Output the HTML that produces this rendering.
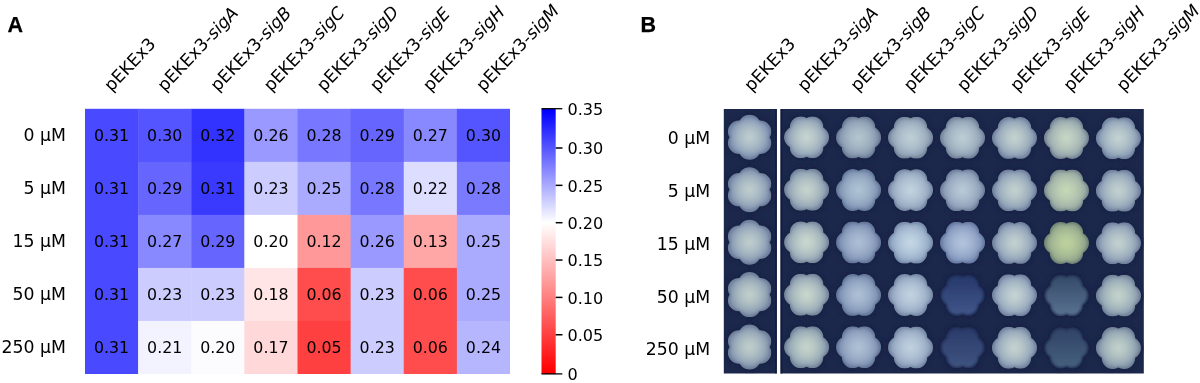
<!DOCTYPE html>
<html lang="en"><head><meta charset="utf-8"><title>Figure</title>
<style>html,body{margin:0;padding:0;background:#fff;}body{width:1200px;height:383px;overflow:hidden;}svg{display:block;}.dv{font-family:"DejaVu Sans","Liberation Sans",sans-serif;fill:#000;}.it{font-style:italic;}.pl{font-family:"Liberation Sans",sans-serif;font-weight:bold;font-size:21.5px;fill:#000;stroke:#000;stroke-width:0.25px;}</style></head><body>
<svg width="1200" height="383" viewBox="0 0 1200 383">
<defs>
<linearGradient id="cb" x1="0" y1="0" x2="0" y2="1"><stop offset="0" stop-color="#0000ff"/><stop offset="0.0070" stop-color="#0000ff"/><stop offset="0.4295" stop-color="#ffffff"/><stop offset="0.9928" stop-color="#ff0000"/><stop offset="1" stop-color="#ff0000"/></linearGradient>
<filter id="soft" x="-10%" y="-10%" width="120%" height="120%"><feGaussianBlur stdDeviation="0.55"/></filter>
<path id="fA" transform="scale(1.035 1)" d="M-10.00 0.00 a10.00 10.00 0 1 0 20.00 0 a10.00 10.00 0 1 0 -20.00 0zM-10.90 -11.60 a10.90 10.90 0 1 0 21.80 0 a10.90 10.90 0 1 0 -21.80 0zM-20.95 -5.80 a10.90 10.90 0 1 0 21.80 0 a10.90 10.90 0 1 0 -21.80 0zM-20.95 5.80 a10.90 10.90 0 1 0 21.80 0 a10.90 10.90 0 1 0 -21.80 0zM-10.90 11.60 a10.90 10.90 0 1 0 21.80 0 a10.90 10.90 0 1 0 -21.80 0zM-0.85 5.80 a10.90 10.90 0 1 0 21.80 0 a10.90 10.90 0 1 0 -21.80 0zM-0.85 -5.80 a10.90 10.90 0 1 0 21.80 0 a10.90 10.90 0 1 0 -21.80 0z"/>
<path id="fB" d="M-10.00 0.00 a10.00 10.00 0 1 0 20.00 0 a10.00 10.00 0 1 0 -20.00 0zM0.70 -0.00 a10.90 10.90 0 1 0 21.80 0 a10.90 10.90 0 1 0 -21.80 0zM-5.10 -10.05 a10.90 10.90 0 1 0 21.80 0 a10.90 10.90 0 1 0 -21.80 0zM-16.70 -10.05 a10.90 10.90 0 1 0 21.80 0 a10.90 10.90 0 1 0 -21.80 0zM-22.50 -0.00 a10.90 10.90 0 1 0 21.80 0 a10.90 10.90 0 1 0 -21.80 0zM-16.70 10.05 a10.90 10.90 0 1 0 21.80 0 a10.90 10.90 0 1 0 -21.80 0zM-5.10 10.05 a10.90 10.90 0 1 0 21.80 0 a10.90 10.90 0 1 0 -21.80 0z"/>
<radialGradient id="c_00" cx="0" cy="0" r="20" gradientUnits="userSpaceOnUse"><stop offset="0" stop-color="#bdcdcf" stop-opacity="1"/><stop offset="0.2" stop-color="#bdcdcf" stop-opacity="0.89"/><stop offset="0.4" stop-color="#bdcdcf" stop-opacity="0.75"/><stop offset="0.55" stop-color="#bdcdcf" stop-opacity="0.61"/><stop offset="0.7" stop-color="#bdcdcf" stop-opacity="0.444"/><stop offset="0.8" stop-color="#bdcdcf" stop-opacity="0.305"/><stop offset="0.9" stop-color="#bdcdcf" stop-opacity="0.14"/><stop offset="1" stop-color="#bdcdcf" stop-opacity="0"/></radialGradient>
<radialGradient id="c_01" cx="0" cy="0" r="20" gradientUnits="userSpaceOnUse"><stop offset="0" stop-color="#c6d5d0" stop-opacity="1"/><stop offset="0.2" stop-color="#c6d5d0" stop-opacity="0.89"/><stop offset="0.4" stop-color="#c6d5d0" stop-opacity="0.75"/><stop offset="0.55" stop-color="#c6d5d0" stop-opacity="0.61"/><stop offset="0.7" stop-color="#c6d5d0" stop-opacity="0.444"/><stop offset="0.8" stop-color="#c6d5d0" stop-opacity="0.305"/><stop offset="0.9" stop-color="#c6d5d0" stop-opacity="0.14"/><stop offset="1" stop-color="#c6d5d0" stop-opacity="0"/></radialGradient>
<radialGradient id="c_02" cx="0" cy="0" r="20" gradientUnits="userSpaceOnUse"><stop offset="0" stop-color="#b4c5cf" stop-opacity="1"/><stop offset="0.2" stop-color="#b4c5cf" stop-opacity="0.89"/><stop offset="0.4" stop-color="#b4c5cf" stop-opacity="0.75"/><stop offset="0.55" stop-color="#b4c5cf" stop-opacity="0.61"/><stop offset="0.7" stop-color="#b4c5cf" stop-opacity="0.444"/><stop offset="0.8" stop-color="#b4c5cf" stop-opacity="0.305"/><stop offset="0.9" stop-color="#b4c5cf" stop-opacity="0.14"/><stop offset="1" stop-color="#b4c5cf" stop-opacity="0"/></radialGradient>
<radialGradient id="c_03" cx="0" cy="0" r="20" gradientUnits="userSpaceOnUse"><stop offset="0" stop-color="#bfcfd7" stop-opacity="1"/><stop offset="0.2" stop-color="#bfcfd7" stop-opacity="0.89"/><stop offset="0.4" stop-color="#bfcfd7" stop-opacity="0.75"/><stop offset="0.55" stop-color="#bfcfd7" stop-opacity="0.61"/><stop offset="0.7" stop-color="#bfcfd7" stop-opacity="0.444"/><stop offset="0.8" stop-color="#bfcfd7" stop-opacity="0.305"/><stop offset="0.9" stop-color="#bfcfd7" stop-opacity="0.14"/><stop offset="1" stop-color="#bfcfd7" stop-opacity="0"/></radialGradient>
<radialGradient id="c_04" cx="0" cy="0" r="20" gradientUnits="userSpaceOnUse"><stop offset="0" stop-color="#bdcdd5" stop-opacity="1"/><stop offset="0.2" stop-color="#bdcdd5" stop-opacity="0.89"/><stop offset="0.4" stop-color="#bdcdd5" stop-opacity="0.75"/><stop offset="0.55" stop-color="#bdcdd5" stop-opacity="0.61"/><stop offset="0.7" stop-color="#bdcdd5" stop-opacity="0.444"/><stop offset="0.8" stop-color="#bdcdd5" stop-opacity="0.305"/><stop offset="0.9" stop-color="#bdcdd5" stop-opacity="0.14"/><stop offset="1" stop-color="#bdcdd5" stop-opacity="0"/></radialGradient>
<radialGradient id="c_05" cx="0" cy="0" r="20" gradientUnits="userSpaceOnUse"><stop offset="0" stop-color="#c3d2cf" stop-opacity="1"/><stop offset="0.2" stop-color="#c3d2cf" stop-opacity="0.89"/><stop offset="0.4" stop-color="#c3d2cf" stop-opacity="0.75"/><stop offset="0.55" stop-color="#c3d2cf" stop-opacity="0.61"/><stop offset="0.7" stop-color="#c3d2cf" stop-opacity="0.444"/><stop offset="0.8" stop-color="#c3d2cf" stop-opacity="0.305"/><stop offset="0.9" stop-color="#c3d2cf" stop-opacity="0.14"/><stop offset="1" stop-color="#c3d2cf" stop-opacity="0"/></radialGradient>
<radialGradient id="c_06" cx="0" cy="0" r="20" gradientUnits="userSpaceOnUse"><stop offset="0" stop-color="#c7d6c4" stop-opacity="1"/><stop offset="0.2" stop-color="#c7d6c4" stop-opacity="0.89"/><stop offset="0.4" stop-color="#c7d6c4" stop-opacity="0.75"/><stop offset="0.55" stop-color="#c7d6c4" stop-opacity="0.61"/><stop offset="0.7" stop-color="#c7d6c4" stop-opacity="0.444"/><stop offset="0.8" stop-color="#c7d6c4" stop-opacity="0.305"/><stop offset="0.9" stop-color="#c7d6c4" stop-opacity="0.14"/><stop offset="1" stop-color="#c7d6c4" stop-opacity="0"/></radialGradient>
<radialGradient id="c_07" cx="0" cy="0" r="20" gradientUnits="userSpaceOnUse"><stop offset="0" stop-color="#c3d3d1" stop-opacity="1"/><stop offset="0.2" stop-color="#c3d3d1" stop-opacity="0.89"/><stop offset="0.4" stop-color="#c3d3d1" stop-opacity="0.75"/><stop offset="0.55" stop-color="#c3d3d1" stop-opacity="0.61"/><stop offset="0.7" stop-color="#c3d3d1" stop-opacity="0.444"/><stop offset="0.8" stop-color="#c3d3d1" stop-opacity="0.305"/><stop offset="0.9" stop-color="#c3d3d1" stop-opacity="0.14"/><stop offset="1" stop-color="#c3d3d1" stop-opacity="0"/></radialGradient>
<radialGradient id="c_10" cx="0" cy="0" r="20" gradientUnits="userSpaceOnUse"><stop offset="0" stop-color="#becdcd" stop-opacity="1"/><stop offset="0.2" stop-color="#becdcd" stop-opacity="0.89"/><stop offset="0.4" stop-color="#becdcd" stop-opacity="0.75"/><stop offset="0.55" stop-color="#becdcd" stop-opacity="0.61"/><stop offset="0.7" stop-color="#becdcd" stop-opacity="0.444"/><stop offset="0.8" stop-color="#becdcd" stop-opacity="0.305"/><stop offset="0.9" stop-color="#becdcd" stop-opacity="0.14"/><stop offset="1" stop-color="#becdcd" stop-opacity="0"/></radialGradient>
<radialGradient id="c_11" cx="0" cy="0" r="20" gradientUnits="userSpaceOnUse"><stop offset="0" stop-color="#c5d4cd" stop-opacity="1"/><stop offset="0.2" stop-color="#c5d4cd" stop-opacity="0.89"/><stop offset="0.4" stop-color="#c5d4cd" stop-opacity="0.75"/><stop offset="0.55" stop-color="#c5d4cd" stop-opacity="0.61"/><stop offset="0.7" stop-color="#c5d4cd" stop-opacity="0.444"/><stop offset="0.8" stop-color="#c5d4cd" stop-opacity="0.305"/><stop offset="0.9" stop-color="#c5d4cd" stop-opacity="0.14"/><stop offset="1" stop-color="#c5d4cd" stop-opacity="0"/></radialGradient>
<radialGradient id="c_12" cx="0" cy="0" r="20" gradientUnits="userSpaceOnUse"><stop offset="0" stop-color="#afc3d5" stop-opacity="1"/><stop offset="0.2" stop-color="#afc3d5" stop-opacity="0.89"/><stop offset="0.4" stop-color="#afc3d5" stop-opacity="0.75"/><stop offset="0.55" stop-color="#afc3d5" stop-opacity="0.61"/><stop offset="0.7" stop-color="#afc3d5" stop-opacity="0.444"/><stop offset="0.8" stop-color="#afc3d5" stop-opacity="0.305"/><stop offset="0.9" stop-color="#afc3d5" stop-opacity="0.14"/><stop offset="1" stop-color="#afc3d5" stop-opacity="0"/></radialGradient>
<radialGradient id="c_13" cx="0" cy="0" r="20" gradientUnits="userSpaceOnUse"><stop offset="0" stop-color="#c1d3df" stop-opacity="1"/><stop offset="0.2" stop-color="#c1d3df" stop-opacity="0.89"/><stop offset="0.4" stop-color="#c1d3df" stop-opacity="0.75"/><stop offset="0.55" stop-color="#c1d3df" stop-opacity="0.61"/><stop offset="0.7" stop-color="#c1d3df" stop-opacity="0.444"/><stop offset="0.8" stop-color="#c1d3df" stop-opacity="0.305"/><stop offset="0.9" stop-color="#c1d3df" stop-opacity="0.14"/><stop offset="1" stop-color="#c1d3df" stop-opacity="0"/></radialGradient>
<radialGradient id="c_14" cx="0" cy="0" r="20" gradientUnits="userSpaceOnUse"><stop offset="0" stop-color="#b9c9d7" stop-opacity="1"/><stop offset="0.2" stop-color="#b9c9d7" stop-opacity="0.89"/><stop offset="0.4" stop-color="#b9c9d7" stop-opacity="0.75"/><stop offset="0.55" stop-color="#b9c9d7" stop-opacity="0.61"/><stop offset="0.7" stop-color="#b9c9d7" stop-opacity="0.444"/><stop offset="0.8" stop-color="#b9c9d7" stop-opacity="0.305"/><stop offset="0.9" stop-color="#b9c9d7" stop-opacity="0.14"/><stop offset="1" stop-color="#b9c9d7" stop-opacity="0"/></radialGradient>
<radialGradient id="c_15" cx="0" cy="0" r="20" gradientUnits="userSpaceOnUse"><stop offset="0" stop-color="#c2d1cf" stop-opacity="1"/><stop offset="0.2" stop-color="#c2d1cf" stop-opacity="0.89"/><stop offset="0.4" stop-color="#c2d1cf" stop-opacity="0.75"/><stop offset="0.55" stop-color="#c2d1cf" stop-opacity="0.61"/><stop offset="0.7" stop-color="#c2d1cf" stop-opacity="0.444"/><stop offset="0.8" stop-color="#c2d1cf" stop-opacity="0.305"/><stop offset="0.9" stop-color="#c2d1cf" stop-opacity="0.14"/><stop offset="1" stop-color="#c2d1cf" stop-opacity="0"/></radialGradient>
<radialGradient id="c_16" cx="0" cy="0" r="20" gradientUnits="userSpaceOnUse"><stop offset="0" stop-color="#c6d8b6" stop-opacity="1"/><stop offset="0.2" stop-color="#c6d8b6" stop-opacity="0.89"/><stop offset="0.4" stop-color="#c6d8b6" stop-opacity="0.75"/><stop offset="0.55" stop-color="#c6d8b6" stop-opacity="0.61"/><stop offset="0.7" stop-color="#c6d8b6" stop-opacity="0.444"/><stop offset="0.8" stop-color="#c6d8b6" stop-opacity="0.305"/><stop offset="0.9" stop-color="#c6d8b6" stop-opacity="0.14"/><stop offset="1" stop-color="#c6d8b6" stop-opacity="0"/></radialGradient>
<radialGradient id="c_17" cx="0" cy="0" r="20" gradientUnits="userSpaceOnUse"><stop offset="0" stop-color="#c2d1cf" stop-opacity="1"/><stop offset="0.2" stop-color="#c2d1cf" stop-opacity="0.89"/><stop offset="0.4" stop-color="#c2d1cf" stop-opacity="0.75"/><stop offset="0.55" stop-color="#c2d1cf" stop-opacity="0.61"/><stop offset="0.7" stop-color="#c2d1cf" stop-opacity="0.444"/><stop offset="0.8" stop-color="#c2d1cf" stop-opacity="0.305"/><stop offset="0.9" stop-color="#c2d1cf" stop-opacity="0.14"/><stop offset="1" stop-color="#c2d1cf" stop-opacity="0"/></radialGradient>
<radialGradient id="c_20" cx="0" cy="0" r="20" gradientUnits="userSpaceOnUse"><stop offset="0" stop-color="#becdcd" stop-opacity="1"/><stop offset="0.2" stop-color="#becdcd" stop-opacity="0.89"/><stop offset="0.4" stop-color="#becdcd" stop-opacity="0.75"/><stop offset="0.55" stop-color="#becdcd" stop-opacity="0.61"/><stop offset="0.7" stop-color="#becdcd" stop-opacity="0.444"/><stop offset="0.8" stop-color="#becdcd" stop-opacity="0.305"/><stop offset="0.9" stop-color="#becdcd" stop-opacity="0.14"/><stop offset="1" stop-color="#becdcd" stop-opacity="0"/></radialGradient>
<radialGradient id="c_21" cx="0" cy="0" r="20" gradientUnits="userSpaceOnUse"><stop offset="0" stop-color="#cad9cf" stop-opacity="1"/><stop offset="0.2" stop-color="#cad9cf" stop-opacity="0.89"/><stop offset="0.4" stop-color="#cad9cf" stop-opacity="0.75"/><stop offset="0.55" stop-color="#cad9cf" stop-opacity="0.61"/><stop offset="0.7" stop-color="#cad9cf" stop-opacity="0.444"/><stop offset="0.8" stop-color="#cad9cf" stop-opacity="0.305"/><stop offset="0.9" stop-color="#cad9cf" stop-opacity="0.14"/><stop offset="1" stop-color="#cad9cf" stop-opacity="0"/></radialGradient>
<radialGradient id="c_22" cx="0" cy="0" r="20" gradientUnits="userSpaceOnUse"><stop offset="0" stop-color="#adbfd5" stop-opacity="1"/><stop offset="0.2" stop-color="#adbfd5" stop-opacity="0.89"/><stop offset="0.4" stop-color="#adbfd5" stop-opacity="0.75"/><stop offset="0.55" stop-color="#adbfd5" stop-opacity="0.61"/><stop offset="0.7" stop-color="#adbfd5" stop-opacity="0.444"/><stop offset="0.8" stop-color="#adbfd5" stop-opacity="0.305"/><stop offset="0.9" stop-color="#adbfd5" stop-opacity="0.14"/><stop offset="1" stop-color="#adbfd5" stop-opacity="0"/></radialGradient>
<radialGradient id="c_23" cx="0" cy="0" r="20" gradientUnits="userSpaceOnUse"><stop offset="0" stop-color="#c3d7e6" stop-opacity="1"/><stop offset="0.2" stop-color="#c3d7e6" stop-opacity="0.89"/><stop offset="0.4" stop-color="#c3d7e6" stop-opacity="0.75"/><stop offset="0.55" stop-color="#c3d7e6" stop-opacity="0.61"/><stop offset="0.7" stop-color="#c3d7e6" stop-opacity="0.444"/><stop offset="0.8" stop-color="#c3d7e6" stop-opacity="0.305"/><stop offset="0.9" stop-color="#c3d7e6" stop-opacity="0.14"/><stop offset="1" stop-color="#c3d7e6" stop-opacity="0"/></radialGradient>
<radialGradient id="c_24" cx="0" cy="0" r="20" gradientUnits="userSpaceOnUse"><stop offset="0" stop-color="#b1c3dc" stop-opacity="1"/><stop offset="0.2" stop-color="#b1c3dc" stop-opacity="0.89"/><stop offset="0.4" stop-color="#b1c3dc" stop-opacity="0.75"/><stop offset="0.55" stop-color="#b1c3dc" stop-opacity="0.61"/><stop offset="0.7" stop-color="#b1c3dc" stop-opacity="0.444"/><stop offset="0.8" stop-color="#b1c3dc" stop-opacity="0.305"/><stop offset="0.9" stop-color="#b1c3dc" stop-opacity="0.14"/><stop offset="1" stop-color="#b1c3dc" stop-opacity="0"/></radialGradient>
<radialGradient id="c_25" cx="0" cy="0" r="20" gradientUnits="userSpaceOnUse"><stop offset="0" stop-color="#c2d1d0" stop-opacity="1"/><stop offset="0.2" stop-color="#c2d1d0" stop-opacity="0.89"/><stop offset="0.4" stop-color="#c2d1d0" stop-opacity="0.75"/><stop offset="0.55" stop-color="#c2d1d0" stop-opacity="0.61"/><stop offset="0.7" stop-color="#c2d1d0" stop-opacity="0.444"/><stop offset="0.8" stop-color="#c2d1d0" stop-opacity="0.305"/><stop offset="0.9" stop-color="#c2d1d0" stop-opacity="0.14"/><stop offset="1" stop-color="#c2d1d0" stop-opacity="0"/></radialGradient>
<radialGradient id="c_26" cx="0" cy="0" r="20" gradientUnits="userSpaceOnUse"><stop offset="0" stop-color="#bed29e" stop-opacity="1"/><stop offset="0.2" stop-color="#bed29e" stop-opacity="0.89"/><stop offset="0.4" stop-color="#bed29e" stop-opacity="0.75"/><stop offset="0.55" stop-color="#bed29e" stop-opacity="0.61"/><stop offset="0.7" stop-color="#bed29e" stop-opacity="0.444"/><stop offset="0.8" stop-color="#bed29e" stop-opacity="0.305"/><stop offset="0.9" stop-color="#bed29e" stop-opacity="0.14"/><stop offset="1" stop-color="#bed29e" stop-opacity="0"/></radialGradient>
<radialGradient id="c_27" cx="0" cy="0" r="20" gradientUnits="userSpaceOnUse"><stop offset="0" stop-color="#c2d1cf" stop-opacity="1"/><stop offset="0.2" stop-color="#c2d1cf" stop-opacity="0.89"/><stop offset="0.4" stop-color="#c2d1cf" stop-opacity="0.75"/><stop offset="0.55" stop-color="#c2d1cf" stop-opacity="0.61"/><stop offset="0.7" stop-color="#c2d1cf" stop-opacity="0.444"/><stop offset="0.8" stop-color="#c2d1cf" stop-opacity="0.305"/><stop offset="0.9" stop-color="#c2d1cf" stop-opacity="0.14"/><stop offset="1" stop-color="#c2d1cf" stop-opacity="0"/></radialGradient>
<radialGradient id="c_30" cx="0" cy="0" r="20" gradientUnits="userSpaceOnUse"><stop offset="0" stop-color="#c0cfcb" stop-opacity="1"/><stop offset="0.2" stop-color="#c0cfcb" stop-opacity="0.89"/><stop offset="0.4" stop-color="#c0cfcb" stop-opacity="0.75"/><stop offset="0.55" stop-color="#c0cfcb" stop-opacity="0.61"/><stop offset="0.7" stop-color="#c0cfcb" stop-opacity="0.444"/><stop offset="0.8" stop-color="#c0cfcb" stop-opacity="0.305"/><stop offset="0.9" stop-color="#c0cfcb" stop-opacity="0.14"/><stop offset="1" stop-color="#c0cfcb" stop-opacity="0"/></radialGradient>
<radialGradient id="c_31" cx="0" cy="0" r="20" gradientUnits="userSpaceOnUse"><stop offset="0" stop-color="#c8d7cd" stop-opacity="1"/><stop offset="0.2" stop-color="#c8d7cd" stop-opacity="0.89"/><stop offset="0.4" stop-color="#c8d7cd" stop-opacity="0.75"/><stop offset="0.55" stop-color="#c8d7cd" stop-opacity="0.61"/><stop offset="0.7" stop-color="#c8d7cd" stop-opacity="0.444"/><stop offset="0.8" stop-color="#c8d7cd" stop-opacity="0.305"/><stop offset="0.9" stop-color="#c8d7cd" stop-opacity="0.14"/><stop offset="1" stop-color="#c8d7cd" stop-opacity="0"/></radialGradient>
<radialGradient id="c_32" cx="0" cy="0" r="20" gradientUnits="userSpaceOnUse"><stop offset="0" stop-color="#adc0d5" stop-opacity="1"/><stop offset="0.2" stop-color="#adc0d5" stop-opacity="0.89"/><stop offset="0.4" stop-color="#adc0d5" stop-opacity="0.75"/><stop offset="0.55" stop-color="#adc0d5" stop-opacity="0.61"/><stop offset="0.7" stop-color="#adc0d5" stop-opacity="0.444"/><stop offset="0.8" stop-color="#adc0d5" stop-opacity="0.305"/><stop offset="0.9" stop-color="#adc0d5" stop-opacity="0.14"/><stop offset="1" stop-color="#adc0d5" stop-opacity="0"/></radialGradient>
<radialGradient id="c_33" cx="0" cy="0" r="20" gradientUnits="userSpaceOnUse"><stop offset="0" stop-color="#c1d3e1" stop-opacity="1"/><stop offset="0.2" stop-color="#c1d3e1" stop-opacity="0.89"/><stop offset="0.4" stop-color="#c1d3e1" stop-opacity="0.75"/><stop offset="0.55" stop-color="#c1d3e1" stop-opacity="0.61"/><stop offset="0.7" stop-color="#c1d3e1" stop-opacity="0.444"/><stop offset="0.8" stop-color="#c1d3e1" stop-opacity="0.305"/><stop offset="0.9" stop-color="#c1d3e1" stop-opacity="0.14"/><stop offset="1" stop-color="#c1d3e1" stop-opacity="0"/></radialGradient>
<linearGradient id="c_d34" gradientUnits="userSpaceOnUse" x1="0" y1="-21" x2="0" y2="21"><stop offset="0" stop-color="#26386a"/><stop offset="1" stop-color="#40568a"/></linearGradient>
<radialGradient id="c_35" cx="0" cy="0" r="20" gradientUnits="userSpaceOnUse"><stop offset="0" stop-color="#c5d4d3" stop-opacity="1"/><stop offset="0.2" stop-color="#c5d4d3" stop-opacity="0.89"/><stop offset="0.4" stop-color="#c5d4d3" stop-opacity="0.75"/><stop offset="0.55" stop-color="#c5d4d3" stop-opacity="0.61"/><stop offset="0.7" stop-color="#c5d4d3" stop-opacity="0.444"/><stop offset="0.8" stop-color="#c5d4d3" stop-opacity="0.305"/><stop offset="0.9" stop-color="#c5d4d3" stop-opacity="0.14"/><stop offset="1" stop-color="#c5d4d3" stop-opacity="0"/></radialGradient>
<linearGradient id="c_d36" gradientUnits="userSpaceOnUse" x1="0" y1="-21" x2="0" y2="21"><stop offset="0" stop-color="#344a68"/><stop offset="1" stop-color="#587290"/></linearGradient>
<radialGradient id="c_37" cx="0" cy="0" r="20" gradientUnits="userSpaceOnUse"><stop offset="0" stop-color="#c3d3cb" stop-opacity="1"/><stop offset="0.2" stop-color="#c3d3cb" stop-opacity="0.89"/><stop offset="0.4" stop-color="#c3d3cb" stop-opacity="0.75"/><stop offset="0.55" stop-color="#c3d3cb" stop-opacity="0.61"/><stop offset="0.7" stop-color="#c3d3cb" stop-opacity="0.444"/><stop offset="0.8" stop-color="#c3d3cb" stop-opacity="0.305"/><stop offset="0.9" stop-color="#c3d3cb" stop-opacity="0.14"/><stop offset="1" stop-color="#c3d3cb" stop-opacity="0"/></radialGradient>
<radialGradient id="c_40" cx="0" cy="0" r="20" gradientUnits="userSpaceOnUse"><stop offset="0" stop-color="#bfcecb" stop-opacity="1"/><stop offset="0.2" stop-color="#bfcecb" stop-opacity="0.89"/><stop offset="0.4" stop-color="#bfcecb" stop-opacity="0.75"/><stop offset="0.55" stop-color="#bfcecb" stop-opacity="0.61"/><stop offset="0.7" stop-color="#bfcecb" stop-opacity="0.444"/><stop offset="0.8" stop-color="#bfcecb" stop-opacity="0.305"/><stop offset="0.9" stop-color="#bfcecb" stop-opacity="0.14"/><stop offset="1" stop-color="#bfcecb" stop-opacity="0"/></radialGradient>
<radialGradient id="c_41" cx="0" cy="0" r="20" gradientUnits="userSpaceOnUse"><stop offset="0" stop-color="#c5d5cb" stop-opacity="1"/><stop offset="0.2" stop-color="#c5d5cb" stop-opacity="0.89"/><stop offset="0.4" stop-color="#c5d5cb" stop-opacity="0.75"/><stop offset="0.55" stop-color="#c5d5cb" stop-opacity="0.61"/><stop offset="0.7" stop-color="#c5d5cb" stop-opacity="0.444"/><stop offset="0.8" stop-color="#c5d5cb" stop-opacity="0.305"/><stop offset="0.9" stop-color="#c5d5cb" stop-opacity="0.14"/><stop offset="1" stop-color="#c5d5cb" stop-opacity="0"/></radialGradient>
<radialGradient id="c_42" cx="0" cy="0" r="20" gradientUnits="userSpaceOnUse"><stop offset="0" stop-color="#afc1d5" stop-opacity="1"/><stop offset="0.2" stop-color="#afc1d5" stop-opacity="0.89"/><stop offset="0.4" stop-color="#afc1d5" stop-opacity="0.75"/><stop offset="0.55" stop-color="#afc1d5" stop-opacity="0.61"/><stop offset="0.7" stop-color="#afc1d5" stop-opacity="0.444"/><stop offset="0.8" stop-color="#afc1d5" stop-opacity="0.305"/><stop offset="0.9" stop-color="#afc1d5" stop-opacity="0.14"/><stop offset="1" stop-color="#afc1d5" stop-opacity="0"/></radialGradient>
<radialGradient id="c_43" cx="0" cy="0" r="20" gradientUnits="userSpaceOnUse"><stop offset="0" stop-color="#bfd1df" stop-opacity="1"/><stop offset="0.2" stop-color="#bfd1df" stop-opacity="0.89"/><stop offset="0.4" stop-color="#bfd1df" stop-opacity="0.75"/><stop offset="0.55" stop-color="#bfd1df" stop-opacity="0.61"/><stop offset="0.7" stop-color="#bfd1df" stop-opacity="0.444"/><stop offset="0.8" stop-color="#bfd1df" stop-opacity="0.305"/><stop offset="0.9" stop-color="#bfd1df" stop-opacity="0.14"/><stop offset="1" stop-color="#bfd1df" stop-opacity="0"/></radialGradient>
<linearGradient id="c_d44" gradientUnits="userSpaceOnUse" x1="0" y1="-21" x2="0" y2="21"><stop offset="0" stop-color="#2a3a6a"/><stop offset="1" stop-color="#3e5480"/></linearGradient>
<radialGradient id="c_45" cx="0" cy="0" r="20" gradientUnits="userSpaceOnUse"><stop offset="0" stop-color="#c4d3d0" stop-opacity="1"/><stop offset="0.2" stop-color="#c4d3d0" stop-opacity="0.89"/><stop offset="0.4" stop-color="#c4d3d0" stop-opacity="0.75"/><stop offset="0.55" stop-color="#c4d3d0" stop-opacity="0.61"/><stop offset="0.7" stop-color="#c4d3d0" stop-opacity="0.444"/><stop offset="0.8" stop-color="#c4d3d0" stop-opacity="0.305"/><stop offset="0.9" stop-color="#c4d3d0" stop-opacity="0.14"/><stop offset="1" stop-color="#c4d3d0" stop-opacity="0"/></radialGradient>
<linearGradient id="c_d46" gradientUnits="userSpaceOnUse" x1="0" y1="-21" x2="0" y2="21"><stop offset="0" stop-color="#304266"/><stop offset="1" stop-color="#46607e"/></linearGradient>
<radialGradient id="c_47" cx="0" cy="0" r="20" gradientUnits="userSpaceOnUse"><stop offset="0" stop-color="#c1d1c9" stop-opacity="1"/><stop offset="0.2" stop-color="#c1d1c9" stop-opacity="0.89"/><stop offset="0.4" stop-color="#c1d1c9" stop-opacity="0.75"/><stop offset="0.55" stop-color="#c1d1c9" stop-opacity="0.61"/><stop offset="0.7" stop-color="#c1d1c9" stop-opacity="0.444"/><stop offset="0.8" stop-color="#c1d1c9" stop-opacity="0.305"/><stop offset="0.9" stop-color="#c1d1c9" stop-opacity="0.14"/><stop offset="1" stop-color="#c1d1c9" stop-opacity="0"/></radialGradient>
<filter id="halo" x="-5%" y="-5%" width="110%" height="110%"><feGaussianBlur stdDeviation="1.4"/></filter>
<clipPath id="clA"><use href="#fA"/></clipPath>
<clipPath id="clB"><use href="#fB"/></clipPath>
<filter id="b2" x="-30%" y="-30%" width="160%" height="160%"><feGaussianBlur stdDeviation="1.5"/></filter>
</defs>
<text class="pl" x="7.6" y="32">A</text>
<text class="pl" x="640.5" y="32">B</text>
<g>
<rect x="85.00" y="108.80" width="53.52" height="53.44" fill="#4949ff"/>
<rect x="138.12" y="108.80" width="53.52" height="53.44" fill="#5555ff"/>
<rect x="191.25" y="108.80" width="53.52" height="53.44" fill="#3333ff"/>
<rect x="244.38" y="108.80" width="53.52" height="53.44" fill="#9999ff"/>
<rect x="297.50" y="108.80" width="53.52" height="53.44" fill="#7777ff"/>
<rect x="350.62" y="108.80" width="53.52" height="53.44" fill="#6666ff"/>
<rect x="403.75" y="108.80" width="53.52" height="53.44" fill="#8888ff"/>
<rect x="456.88" y="108.80" width="53.12" height="53.44" fill="#5555ff"/>
<rect x="85.00" y="161.84" width="53.52" height="53.44" fill="#4949ff"/>
<rect x="138.12" y="161.84" width="53.52" height="53.44" fill="#6666ff"/>
<rect x="191.25" y="161.84" width="53.52" height="53.44" fill="#3a3aff"/>
<rect x="244.38" y="161.84" width="53.52" height="53.44" fill="#ccccff"/>
<rect x="297.50" y="161.84" width="53.52" height="53.44" fill="#aaaaff"/>
<rect x="350.62" y="161.84" width="53.52" height="53.44" fill="#7777ff"/>
<rect x="403.75" y="161.84" width="53.52" height="53.44" fill="#ddddff"/>
<rect x="456.88" y="161.84" width="53.12" height="53.44" fill="#7a7aff"/>
<rect x="85.00" y="214.88" width="53.52" height="53.44" fill="#4949ff"/>
<rect x="138.12" y="214.88" width="53.52" height="53.44" fill="#8888ff"/>
<rect x="191.25" y="214.88" width="53.52" height="53.44" fill="#6666ff"/>
<rect x="244.38" y="214.88" width="53.52" height="53.44" fill="#ffffff"/>
<rect x="297.50" y="214.88" width="53.52" height="53.44" fill="#ff9999"/>
<rect x="350.62" y="214.88" width="53.52" height="53.44" fill="#9999ff"/>
<rect x="403.75" y="214.88" width="53.52" height="53.44" fill="#ffa6a6"/>
<rect x="456.88" y="214.88" width="53.12" height="53.44" fill="#aaaaff"/>
<rect x="85.00" y="267.92" width="53.52" height="53.44" fill="#4949ff"/>
<rect x="138.12" y="267.92" width="53.52" height="53.44" fill="#ccccff"/>
<rect x="191.25" y="267.92" width="53.52" height="53.44" fill="#ccccff"/>
<rect x="244.38" y="267.92" width="53.52" height="53.44" fill="#ffe5e5"/>
<rect x="297.50" y="267.92" width="53.52" height="53.44" fill="#ff4c4c"/>
<rect x="350.62" y="267.92" width="53.52" height="53.44" fill="#ccccff"/>
<rect x="403.75" y="267.92" width="53.52" height="53.44" fill="#ff4c4c"/>
<rect x="456.88" y="267.92" width="53.12" height="53.44" fill="#aaaaff"/>
<rect x="85.00" y="320.96" width="53.52" height="53.04" fill="#4949ff"/>
<rect x="138.12" y="320.96" width="53.52" height="53.04" fill="#f3f3ff"/>
<rect x="191.25" y="320.96" width="53.52" height="53.04" fill="#fcfcff"/>
<rect x="244.38" y="320.96" width="53.52" height="53.04" fill="#ffd9d9"/>
<rect x="297.50" y="320.96" width="53.52" height="53.04" fill="#ff4040"/>
<rect x="350.62" y="320.96" width="53.52" height="53.04" fill="#ccccff"/>
<rect x="403.75" y="320.96" width="53.52" height="53.04" fill="#ff4c4c"/>
<rect x="456.88" y="320.96" width="53.12" height="53.04" fill="#b6b6ff"/>
</g>
<text class="dv" font-size="15.80" text-anchor="middle" x="111.56" y="140.99">0.31</text>
<text class="dv" font-size="15.80" text-anchor="middle" x="164.69" y="140.99">0.30</text>
<text class="dv" font-size="15.80" text-anchor="middle" x="217.81" y="140.99">0.32</text>
<text class="dv" font-size="15.80" text-anchor="middle" x="270.94" y="140.99">0.26</text>
<text class="dv" font-size="15.80" text-anchor="middle" x="324.06" y="140.99">0.28</text>
<text class="dv" font-size="15.80" text-anchor="middle" x="377.19" y="140.99">0.29</text>
<text class="dv" font-size="15.80" text-anchor="middle" x="430.31" y="140.99">0.27</text>
<text class="dv" font-size="15.80" text-anchor="middle" x="483.44" y="140.99">0.30</text>
<text class="dv" font-size="17.30" text-anchor="end" x="65.9" y="140.63">0 µM</text>
<text class="dv" font-size="15.80" text-anchor="middle" x="111.56" y="194.03">0.31</text>
<text class="dv" font-size="15.80" text-anchor="middle" x="164.69" y="194.03">0.29</text>
<text class="dv" font-size="15.80" text-anchor="middle" x="217.81" y="194.03">0.31</text>
<text class="dv" font-size="15.80" text-anchor="middle" x="270.94" y="194.03">0.23</text>
<text class="dv" font-size="15.80" text-anchor="middle" x="324.06" y="194.03">0.25</text>
<text class="dv" font-size="15.80" text-anchor="middle" x="377.19" y="194.03">0.28</text>
<text class="dv" font-size="15.80" text-anchor="middle" x="430.31" y="194.03">0.22</text>
<text class="dv" font-size="15.80" text-anchor="middle" x="483.44" y="194.03">0.28</text>
<text class="dv" font-size="17.30" text-anchor="end" x="65.9" y="193.67">5 µM</text>
<text class="dv" font-size="15.80" text-anchor="middle" x="111.56" y="247.07">0.31</text>
<text class="dv" font-size="15.80" text-anchor="middle" x="164.69" y="247.07">0.27</text>
<text class="dv" font-size="15.80" text-anchor="middle" x="217.81" y="247.07">0.29</text>
<text class="dv" font-size="15.80" text-anchor="middle" x="270.94" y="247.07">0.20</text>
<text class="dv" font-size="15.80" text-anchor="middle" x="324.06" y="247.07">0.12</text>
<text class="dv" font-size="15.80" text-anchor="middle" x="377.19" y="247.07">0.26</text>
<text class="dv" font-size="15.80" text-anchor="middle" x="430.31" y="247.07">0.13</text>
<text class="dv" font-size="15.80" text-anchor="middle" x="483.44" y="247.07">0.25</text>
<text class="dv" font-size="17.30" text-anchor="end" x="65.9" y="246.71">15 µM</text>
<text class="dv" font-size="15.80" text-anchor="middle" x="111.56" y="300.11">0.31</text>
<text class="dv" font-size="15.80" text-anchor="middle" x="164.69" y="300.11">0.23</text>
<text class="dv" font-size="15.80" text-anchor="middle" x="217.81" y="300.11">0.23</text>
<text class="dv" font-size="15.80" text-anchor="middle" x="270.94" y="300.11">0.18</text>
<text class="dv" font-size="15.80" text-anchor="middle" x="324.06" y="300.11">0.06</text>
<text class="dv" font-size="15.80" text-anchor="middle" x="377.19" y="300.11">0.23</text>
<text class="dv" font-size="15.80" text-anchor="middle" x="430.31" y="300.11">0.06</text>
<text class="dv" font-size="15.80" text-anchor="middle" x="483.44" y="300.11">0.25</text>
<text class="dv" font-size="17.30" text-anchor="end" x="65.9" y="299.75">50 µM</text>
<text class="dv" font-size="15.80" text-anchor="middle" x="111.56" y="353.15">0.31</text>
<text class="dv" font-size="15.80" text-anchor="middle" x="164.69" y="353.15">0.21</text>
<text class="dv" font-size="15.80" text-anchor="middle" x="217.81" y="353.15">0.20</text>
<text class="dv" font-size="15.80" text-anchor="middle" x="270.94" y="353.15">0.17</text>
<text class="dv" font-size="15.80" text-anchor="middle" x="324.06" y="353.15">0.05</text>
<text class="dv" font-size="15.80" text-anchor="middle" x="377.19" y="353.15">0.23</text>
<text class="dv" font-size="15.80" text-anchor="middle" x="430.31" y="353.15">0.06</text>
<text class="dv" font-size="15.80" text-anchor="middle" x="483.44" y="353.15">0.24</text>
<text class="dv" font-size="17.30" text-anchor="end" x="65.9" y="352.79">250 µM</text>
<text class="dv" font-size="17.30" transform="translate(111.56 92.30) rotate(-46.5)">pEKEx3</text>
<text class="dv" font-size="17.30" transform="translate(164.69 92.30) rotate(-46.5)">pEKEx3-<tspan class="it">sigA</tspan></text>
<text class="dv" font-size="17.30" transform="translate(217.81 92.30) rotate(-46.5)">pEKEx3-<tspan class="it">sigB</tspan></text>
<text class="dv" font-size="17.30" transform="translate(270.94 92.30) rotate(-46.5)">pEKEx3-<tspan class="it">sigC</tspan></text>
<text class="dv" font-size="17.30" transform="translate(324.06 92.30) rotate(-46.5)">pEKEx3-<tspan class="it">sigD</tspan></text>
<text class="dv" font-size="17.30" transform="translate(377.19 92.30) rotate(-46.5)">pEKEx3-<tspan class="it">sigE</tspan></text>
<text class="dv" font-size="17.30" transform="translate(430.31 92.30) rotate(-46.5)">pEKEx3-<tspan class="it">sigH</tspan></text>
<text class="dv" font-size="17.30" transform="translate(483.44 92.30) rotate(-46.5)">pEKEx3-<tspan class="it">sigM</tspan></text>
<rect x="541.50" y="108.80" width="14.20" height="265.20" fill="url(#cb)"/>
<line x1="541.50" y1="373.90" x2="562.30" y2="373.90" stroke="#000" stroke-width="1.3"/>
<text class="dv" font-size="16.10" x="567.4" y="380.05">0</text>
<line x1="555.70" y1="334.75" x2="562.50" y2="334.75" stroke="#000" stroke-width="1.5"/>
<text class="dv" font-size="16.10" x="567.4" y="340.90">0.05</text>
<line x1="555.70" y1="297.40" x2="562.50" y2="297.40" stroke="#000" stroke-width="1.5"/>
<text class="dv" font-size="16.10" x="567.4" y="303.55">0.10</text>
<line x1="555.70" y1="260.05" x2="562.50" y2="260.05" stroke="#000" stroke-width="1.5"/>
<text class="dv" font-size="16.10" x="567.4" y="266.20">0.15</text>
<line x1="555.70" y1="222.70" x2="562.50" y2="222.70" stroke="#000" stroke-width="1.5"/>
<text class="dv" font-size="16.10" x="567.4" y="228.85">0.20</text>
<line x1="555.70" y1="185.35" x2="562.50" y2="185.35" stroke="#000" stroke-width="1.5"/>
<text class="dv" font-size="16.10" x="567.4" y="191.50">0.25</text>
<line x1="555.70" y1="148.00" x2="562.50" y2="148.00" stroke="#000" stroke-width="1.5"/>
<text class="dv" font-size="16.10" x="567.4" y="154.15">0.30</text>
<line x1="541.50" y1="108.70" x2="562.30" y2="108.70" stroke="#000" stroke-width="1.3"/>
<text class="dv" font-size="16.10" x="567.4" y="114.85">0.35</text>
<rect x="723.80" y="109.00" width="53.00" height="264.50" fill="#1c284b"/>
<rect x="780.55" y="109.00" width="363.25" height="264.50" fill="#1c284b"/>
<rect x="775.20" y="109.00" width="1.6" height="264.50" fill="#131d43"/>
<rect x="780.55" y="109.00" width="1.8" height="264.50" fill="#111a40"/>
<clipPath id="photo"><rect x="723.80" y="109.00" width="53.00" height="264.50"/><rect x="780.55" y="109.00" width="363.25" height="264.50"/></clipPath>
<g clip-path="url(#photo)"><g filter="url(#halo)" fill="#172146">
<use href="#fA" transform="translate(749.60 137.20) scale(1.13)"/>
<use href="#fB" transform="translate(806.60 137.35) scale(1.13)"/>
<use href="#fB" transform="translate(858.57 137.49) scale(1.13)"/>
<use href="#fB" transform="translate(910.54 137.63) scale(1.13)"/>
<use href="#fB" transform="translate(962.51 137.77) scale(1.13)"/>
<use href="#fB" transform="translate(1014.49 137.91) scale(1.13)"/>
<use href="#fB" transform="translate(1066.46 138.05) scale(1.13)"/>
<use href="#fB" transform="translate(1118.43 138.19) scale(1.13)"/>
<use href="#fA" transform="translate(749.60 189.65) scale(1.13)"/>
<use href="#fB" transform="translate(806.60 189.80) scale(1.13)"/>
<use href="#fB" transform="translate(858.57 189.94) scale(1.13)"/>
<use href="#fB" transform="translate(910.54 190.08) scale(1.13)"/>
<use href="#fB" transform="translate(962.51 190.22) scale(1.13)"/>
<use href="#fB" transform="translate(1014.49 190.36) scale(1.13)"/>
<use href="#fB" transform="translate(1066.46 190.50) scale(1.13)"/>
<use href="#fB" transform="translate(1118.43 190.64) scale(1.13)"/>
<use href="#fA" transform="translate(749.60 242.20) scale(1.13)"/>
<use href="#fB" transform="translate(806.60 242.35) scale(1.13)"/>
<use href="#fB" transform="translate(858.57 242.49) scale(1.13)"/>
<use href="#fB" transform="translate(910.54 242.63) scale(1.13)"/>
<use href="#fB" transform="translate(962.51 242.77) scale(1.13)"/>
<use href="#fB" transform="translate(1014.49 242.91) scale(1.13)"/>
<use href="#fB" transform="translate(1066.46 243.05) scale(1.13)"/>
<use href="#fB" transform="translate(1118.43 243.19) scale(1.13)"/>
<use href="#fA" transform="translate(749.60 294.60) scale(1.13)"/>
<use href="#fB" transform="translate(806.60 294.75) scale(1.13)"/>
<use href="#fB" transform="translate(858.57 294.89) scale(1.13)"/>
<use href="#fB" transform="translate(910.54 295.03) scale(1.13)"/>
<use href="#fB" transform="translate(962.51 295.17) scale(1.13)"/>
<use href="#fB" transform="translate(1014.49 295.31) scale(1.13)"/>
<use href="#fB" transform="translate(1066.46 295.45) scale(1.13)"/>
<use href="#fB" transform="translate(1118.43 295.59) scale(1.13)"/>
<use href="#fA" transform="translate(749.60 347.00) scale(1.13)"/>
<use href="#fB" transform="translate(806.60 347.15) scale(1.13)"/>
<use href="#fB" transform="translate(858.57 347.29) scale(1.13)"/>
<use href="#fB" transform="translate(910.54 347.43) scale(1.13)"/>
<use href="#fB" transform="translate(962.51 347.57) scale(1.13)"/>
<use href="#fB" transform="translate(1014.49 347.71) scale(1.13)"/>
<use href="#fB" transform="translate(1066.46 347.85) scale(1.13)"/>
<use href="#fB" transform="translate(1118.43 347.99) scale(1.13)"/>
</g></g>
<g filter="url(#soft)">
<g transform="translate(749.60 137.20)" clip-path="url(#clA)">
<rect x="-24" y="-24" width="48" height="48" fill="#667794"/>
<use href="#fA" transform="scale(0.93)" fill="#7f92b2" filter="url(#b2)"/>
<circle r="20" fill="url(#c_00)"/>
</g>
<g transform="translate(806.60 137.35)" clip-path="url(#clB)">
<rect x="-24" y="-24" width="48" height="48" fill="#6f7f95"/>
<use href="#fB" transform="scale(0.93)" fill="#889ab3" filter="url(#b2)"/>
<circle r="20" fill="url(#c_01)"/>
</g>
<g transform="translate(858.57 137.49)" clip-path="url(#clB)">
<rect x="-24" y="-24" width="48" height="48" fill="#64758d"/>
<use href="#fB" transform="scale(0.93)" fill="#8092aa" filter="url(#b2)"/>
<circle r="20" fill="url(#c_02)"/>
</g>
<g transform="translate(910.54 137.63)" clip-path="url(#clB)">
<rect x="-24" y="-24" width="48" height="48" fill="#6f7f95"/>
<use href="#fB" transform="scale(0.93)" fill="#8b9cb2" filter="url(#b2)"/>
<circle r="20" fill="url(#c_03)"/>
</g>
<g transform="translate(962.51 137.77)" clip-path="url(#clB)">
<rect x="-24" y="-24" width="48" height="48" fill="#6d7d93"/>
<use href="#fB" transform="scale(0.93)" fill="#899ab0" filter="url(#b2)"/>
<circle r="20" fill="url(#c_04)"/>
</g>
<g transform="translate(1014.49 137.91)" clip-path="url(#clB)">
<rect x="-24" y="-24" width="48" height="48" fill="#6c7c94"/>
<use href="#fB" transform="scale(0.93)" fill="#8597b2" filter="url(#b2)"/>
<circle r="20" fill="url(#c_05)"/>
</g>
<g transform="translate(1066.46 138.05)" clip-path="url(#clB)">
<rect x="-24" y="-24" width="48" height="48" fill="#6e7c8b"/>
<use href="#fB" transform="scale(0.93)" fill="#8fa0aa" filter="url(#b2)"/>
<circle r="20" fill="url(#c_06)"/>
</g>
<g transform="translate(1118.43 138.19)" clip-path="url(#clB)">
<rect x="-24" y="-24" width="48" height="48" fill="#6c7d96"/>
<use href="#fB" transform="scale(0.93)" fill="#8598b4" filter="url(#b2)"/>
<circle r="20" fill="url(#c_07)"/>
</g>
<g transform="translate(749.60 189.65)" clip-path="url(#clA)">
<rect x="-24" y="-24" width="48" height="48" fill="#677792"/>
<use href="#fA" transform="scale(0.93)" fill="#8092b0" filter="url(#b2)"/>
<circle r="20" fill="url(#c_10)"/>
</g>
<g transform="translate(806.60 189.80)" clip-path="url(#clB)">
<rect x="-24" y="-24" width="48" height="48" fill="#6e7e92"/>
<use href="#fB" transform="scale(0.93)" fill="#8799b0" filter="url(#b2)"/>
<circle r="20" fill="url(#c_11)"/>
</g>
<g transform="translate(858.57 189.94)" clip-path="url(#clB)">
<rect x="-24" y="-24" width="48" height="48" fill="#5f7393"/>
<use href="#fB" transform="scale(0.93)" fill="#7b90b0" filter="url(#b2)"/>
<circle r="20" fill="url(#c_12)"/>
</g>
<g transform="translate(910.54 190.08)" clip-path="url(#clB)">
<rect x="-24" y="-24" width="48" height="48" fill="#71839d"/>
<use href="#fB" transform="scale(0.93)" fill="#8da0ba" filter="url(#b2)"/>
<circle r="20" fill="url(#c_13)"/>
</g>
<g transform="translate(962.51 190.22)" clip-path="url(#clB)">
<rect x="-24" y="-24" width="48" height="48" fill="#697995"/>
<use href="#fB" transform="scale(0.93)" fill="#8596b2" filter="url(#b2)"/>
<circle r="20" fill="url(#c_14)"/>
</g>
<g transform="translate(1014.49 190.36)" clip-path="url(#clB)">
<rect x="-24" y="-24" width="48" height="48" fill="#6b7b94"/>
<use href="#fB" transform="scale(0.93)" fill="#8496b2" filter="url(#b2)"/>
<circle r="20" fill="url(#c_15)"/>
</g>
<g transform="translate(1066.46 190.50)" clip-path="url(#clB)">
<rect x="-24" y="-24" width="48" height="48" fill="#728287"/>
<use href="#fB" transform="scale(0.93)" fill="#95a7a3" filter="url(#b2)"/>
<circle r="20" fill="url(#c_16)"/>
</g>
<g transform="translate(1118.43 190.64)" clip-path="url(#clB)">
<rect x="-24" y="-24" width="48" height="48" fill="#6b7b94"/>
<use href="#fB" transform="scale(0.93)" fill="#8496b2" filter="url(#b2)"/>
<circle r="20" fill="url(#c_17)"/>
</g>
<g transform="translate(749.60 242.20)" clip-path="url(#clA)">
<rect x="-24" y="-24" width="48" height="48" fill="#677792"/>
<use href="#fA" transform="scale(0.93)" fill="#8092b0" filter="url(#b2)"/>
<circle r="20" fill="url(#c_20)"/>
</g>
<g transform="translate(806.60 242.35)" clip-path="url(#clB)">
<rect x="-24" y="-24" width="48" height="48" fill="#738394"/>
<use href="#fB" transform="scale(0.93)" fill="#8c9eb2" filter="url(#b2)"/>
<circle r="20" fill="url(#c_21)"/>
</g>
<g transform="translate(858.57 242.49)" clip-path="url(#clB)">
<rect x="-24" y="-24" width="48" height="48" fill="#5d6f93"/>
<use href="#fB" transform="scale(0.93)" fill="#798cb0" filter="url(#b2)"/>
<circle r="20" fill="url(#c_22)"/>
</g>
<g transform="translate(910.54 242.63)" clip-path="url(#clB)">
<rect x="-24" y="-24" width="48" height="48" fill="#7387a4"/>
<use href="#fB" transform="scale(0.93)" fill="#8fa4c1" filter="url(#b2)"/>
<circle r="20" fill="url(#c_23)"/>
</g>
<g transform="translate(962.51 242.77)" clip-path="url(#clB)">
<rect x="-24" y="-24" width="48" height="48" fill="#61739a"/>
<use href="#fB" transform="scale(0.93)" fill="#7d90b7" filter="url(#b2)"/>
<circle r="20" fill="url(#c_24)"/>
</g>
<g transform="translate(1014.49 242.91)" clip-path="url(#clB)">
<rect x="-24" y="-24" width="48" height="48" fill="#6b7b95"/>
<use href="#fB" transform="scale(0.93)" fill="#8496b3" filter="url(#b2)"/>
<circle r="20" fill="url(#c_25)"/>
</g>
<g transform="translate(1066.46 243.05)" clip-path="url(#clB)">
<rect x="-24" y="-24" width="48" height="48" fill="#6a7c6f"/>
<use href="#fB" transform="scale(0.93)" fill="#8da18b" filter="url(#b2)"/>
<circle r="20" fill="url(#c_26)"/>
</g>
<g transform="translate(1118.43 243.19)" clip-path="url(#clB)">
<rect x="-24" y="-24" width="48" height="48" fill="#6b7b94"/>
<use href="#fB" transform="scale(0.93)" fill="#8496b2" filter="url(#b2)"/>
<circle r="20" fill="url(#c_27)"/>
</g>
<g transform="translate(749.60 294.60)" clip-path="url(#clA)">
<rect x="-24" y="-24" width="48" height="48" fill="#697990"/>
<use href="#fA" transform="scale(0.93)" fill="#8294ae" filter="url(#b2)"/>
<circle r="20" fill="url(#c_30)"/>
</g>
<g transform="translate(806.60 294.75)" clip-path="url(#clB)">
<rect x="-24" y="-24" width="48" height="48" fill="#718192"/>
<use href="#fB" transform="scale(0.93)" fill="#8a9cb0" filter="url(#b2)"/>
<circle r="20" fill="url(#c_31)"/>
</g>
<g transform="translate(858.57 294.89)" clip-path="url(#clB)">
<rect x="-24" y="-24" width="48" height="48" fill="#5d7093"/>
<use href="#fB" transform="scale(0.93)" fill="#798db0" filter="url(#b2)"/>
<circle r="20" fill="url(#c_32)"/>
</g>
<g transform="translate(910.54 295.03)" clip-path="url(#clB)">
<rect x="-24" y="-24" width="48" height="48" fill="#71839f"/>
<use href="#fB" transform="scale(0.93)" fill="#8da0bc" filter="url(#b2)"/>
<circle r="20" fill="url(#c_33)"/>
</g>
<g transform="translate(962.51 295.17)" clip-path="url(#clB)">
<rect x="-24" y="-24" width="48" height="48" fill="#1a264c"/>
<use href="#fB" transform="scale(0.94)" fill="url(#c_d34)" filter="url(#b2)"/>
</g>
<g transform="translate(1014.49 295.31)" clip-path="url(#clB)">
<rect x="-24" y="-24" width="48" height="48" fill="#6e7e98"/>
<use href="#fB" transform="scale(0.93)" fill="#8799b6" filter="url(#b2)"/>
<circle r="20" fill="url(#c_35)"/>
</g>
<g transform="translate(1066.46 295.45)" clip-path="url(#clB)">
<rect x="-24" y="-24" width="48" height="48" fill="#1c284a"/>
<use href="#fB" transform="scale(0.94)" fill="url(#c_d36)" filter="url(#b2)"/>
</g>
<g transform="translate(1118.43 295.59)" clip-path="url(#clB)">
<rect x="-24" y="-24" width="48" height="48" fill="#6c7d90"/>
<use href="#fB" transform="scale(0.93)" fill="#8598ae" filter="url(#b2)"/>
<circle r="20" fill="url(#c_37)"/>
</g>
<g transform="translate(749.60 347.00)" clip-path="url(#clA)">
<rect x="-24" y="-24" width="48" height="48" fill="#687890"/>
<use href="#fA" transform="scale(0.93)" fill="#8193ae" filter="url(#b2)"/>
<circle r="20" fill="url(#c_40)"/>
</g>
<g transform="translate(806.60 347.15)" clip-path="url(#clB)">
<rect x="-24" y="-24" width="48" height="48" fill="#6e7f90"/>
<use href="#fB" transform="scale(0.93)" fill="#879aae" filter="url(#b2)"/>
<circle r="20" fill="url(#c_41)"/>
</g>
<g transform="translate(858.57 347.29)" clip-path="url(#clB)">
<rect x="-24" y="-24" width="48" height="48" fill="#5f7193"/>
<use href="#fB" transform="scale(0.93)" fill="#7b8eb0" filter="url(#b2)"/>
<circle r="20" fill="url(#c_42)"/>
</g>
<g transform="translate(910.54 347.43)" clip-path="url(#clB)">
<rect x="-24" y="-24" width="48" height="48" fill="#6f819d"/>
<use href="#fB" transform="scale(0.93)" fill="#8b9eba" filter="url(#b2)"/>
<circle r="20" fill="url(#c_43)"/>
</g>
<g transform="translate(962.51 347.57)" clip-path="url(#clB)">
<rect x="-24" y="-24" width="48" height="48" fill="#1a264c"/>
<use href="#fB" transform="scale(0.94)" fill="url(#c_d44)" filter="url(#b2)"/>
</g>
<g transform="translate(1014.49 347.71)" clip-path="url(#clB)">
<rect x="-24" y="-24" width="48" height="48" fill="#6d7d95"/>
<use href="#fB" transform="scale(0.93)" fill="#8698b3" filter="url(#b2)"/>
<circle r="20" fill="url(#c_45)"/>
</g>
<g transform="translate(1066.46 347.85)" clip-path="url(#clB)">
<rect x="-24" y="-24" width="48" height="48" fill="#1a264c"/>
<use href="#fB" transform="scale(0.94)" fill="url(#c_d46)" filter="url(#b2)"/>
</g>
<g transform="translate(1118.43 347.99)" clip-path="url(#clB)">
<rect x="-24" y="-24" width="48" height="48" fill="#6a7b8e"/>
<use href="#fB" transform="scale(0.93)" fill="#8396ac" filter="url(#b2)"/>
<circle r="20" fill="url(#c_47)"/>
</g>
</g>
<text class="dv" font-size="17.30" text-anchor="end" x="710.2" y="143.86">0 µM</text>
<text class="dv" font-size="17.30" text-anchor="end" x="710.2" y="196.76">5 µM</text>
<text class="dv" font-size="17.30" text-anchor="end" x="710.2" y="249.66">15 µM</text>
<text class="dv" font-size="17.30" text-anchor="end" x="710.2" y="302.56">50 µM</text>
<text class="dv" font-size="17.30" text-anchor="end" x="710.2" y="355.46">250 µM</text>
<text class="dv" font-size="17.30" transform="translate(751.45 92.30) rotate(-46.5)">pEKEx3</text>
<text class="dv" font-size="17.30" transform="translate(804.65 92.30) rotate(-46.5)">pEKEx3-<tspan class="it">sigA</tspan></text>
<text class="dv" font-size="17.30" transform="translate(857.85 92.30) rotate(-46.5)">pEKEx3-<tspan class="it">sigB</tspan></text>
<text class="dv" font-size="17.30" transform="translate(911.05 92.30) rotate(-46.5)">pEKEx3-<tspan class="it">sigC</tspan></text>
<text class="dv" font-size="17.30" transform="translate(964.25 92.30) rotate(-46.5)">pEKEx3-<tspan class="it">sigD</tspan></text>
<text class="dv" font-size="17.30" transform="translate(1017.45 92.30) rotate(-46.5)">pEKEx3-<tspan class="it">sigE</tspan></text>
<text class="dv" font-size="17.30" transform="translate(1070.65 92.30) rotate(-46.5)">pEKEx3-<tspan class="it">sigH</tspan></text>
<text class="dv" font-size="17.30" transform="translate(1123.85 92.30) rotate(-46.5)">pEKEx3-<tspan class="it">sigM</tspan></text>
</svg></body></html>
